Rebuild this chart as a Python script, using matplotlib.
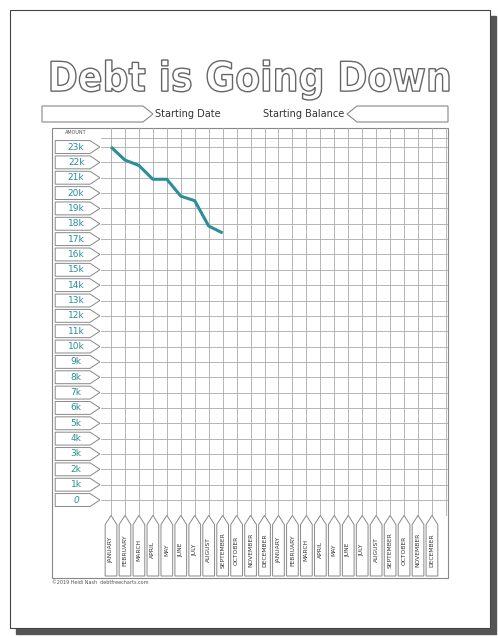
import matplotlib.pyplot as plt
from matplotlib.patches import Polygon, Rectangle, PathPatch
from matplotlib.textpath import TextPath
from matplotlib.font_manager import FontProperties
from matplotlib.transforms import Affine2D

months = ['JANUARY', 'FEBRUARY', 'MARCH', 'APRIL', 'MAY', 'JUNE', 'JULY', 'AUGUST',
          'SEPTEMBER', 'OCTOBER', 'NOVEMBER', 'DECEMBER'] * 2
amount_labels = [f'{k}k' for k in range(23, 0, -1)] + ['0']
amount_levels = list(range(23, -1, -1))
debt = [23, 22.15, 21.8, 20.9, 20.9, 19.8, 19.5, 17.85, 17.4]

teal = '#2a8f98'
grey = '#888888'

fig = plt.figure(figsize=(4.98, 6.38), dpi=100)
# page in pixel coords
pg = fig.add_axes([0, 0, 1, 1])
pg.set_xlim(0, 498)
pg.set_ylim(638, 0)
pg.axis('off')
pg.add_patch(Rectangle((16, 16), 480, 618, color='#555555'))
pg.add_patch(Rectangle((10, 10), 480, 618, facecolor='white', edgecolor='#444444', lw=0.8))

# condensed outlined title, squeezed to fit the header box
tp = TextPath((0, 0), 'Debt is Going Down', size=10,
              prop=FontProperties(family='DejaVu Sans', weight='bold'))
bb = tp.get_extents()
sx = 398 / bb.width
sy = 40 / bb.height
tr = Affine2D().translate(-bb.x0, -bb.y0).scale(sx, -sy).translate(51, 100)
pg.add_patch(PathPatch(tr.transform_path(tp), facecolor='white', edgecolor='#666666', lw=1.0))

pg.add_patch(Polygon([(42, 106), (143, 106), (153, 114), (143, 122), (42, 122)],
                     facecolor='white', edgecolor=grey, lw=0.8))
pg.add_patch(Polygon([(448, 106), (357, 106), (347, 114), (357, 122), (448, 122)],
                     facecolor='white', edgecolor=grey, lw=0.8))
pg.text(155, 114, 'Starting Date', fontsize=7, va='center', color='#333333')
pg.text(344, 114, 'Starting Balance', fontsize=7, va='center', ha='right', color='#333333')
pg.add_patch(Rectangle((52, 128), 396, 450, facecolor='none', edgecolor=grey, lw=0.8))
pg.text(76, 133, 'AMOUNT', fontsize=3.5, ha='center', va='center', color='#555555')
pg.text(52, 582, '©2019 Heidi Nash  debtfreecharts.com', fontsize=3.5, va='center', color='#555555')

# data axes over the grid box
ax = fig.add_axes([52 / 498, 1 - 578 / 638, 396 / 498, 450 / 638])
ax.set_xlim(-4.23, 24.15)
ax.set_ylim(-5.08, 24.24)
ax.axis('off')

for i in range(len(months) + 1):
    ax.plot([i, i], [-1.0, 24.24], color='#aaaaaa', lw=0.6, zorder=1)
for lv in amount_levels:
    ax.plot([-0.75, 24.15], [lv, lv], color='#aaaaaa', lw=0.6, zorder=1)
ax.plot([-0.75, 24.15], [23.6, 23.6], color='#aaaaaa', lw=0.6, zorder=1)

for lv, lab in zip(amount_levels, amount_labels):
    ax.add_patch(Polygon([(-4.0, lv - 0.42), (-1.5, lv - 0.42), (-0.8, lv),
                          (-1.5, lv + 0.42), (-4.0, lv + 0.42)],
                         facecolor='white', edgecolor=grey, lw=0.7, zorder=2))
    ax.text(-2.5, lv, lab, ha='center', va='center', fontsize=6.5, color=teal,
            style='italic' if lab == '0' else 'normal', zorder=3)

for i, m in enumerate(months):
    ax.add_patch(Polygon([(i - 0.42, -4.95), (i + 0.42, -4.95), (i + 0.42, -1.6),
                          (i, -1.0), (i - 0.42, -1.6)],
                         facecolor='white', edgecolor=grey, lw=0.7, zorder=2))
    ax.text(i, -3.25, m, rotation=90, ha='center', va='center', fontsize=4.3,
            color='#333333', zorder=3)

ax.plot(range(len(debt)), debt, color=teal, lw=2.2, zorder=4, solid_capstyle='butt')

fig.savefig('out.png', dpi=100)
